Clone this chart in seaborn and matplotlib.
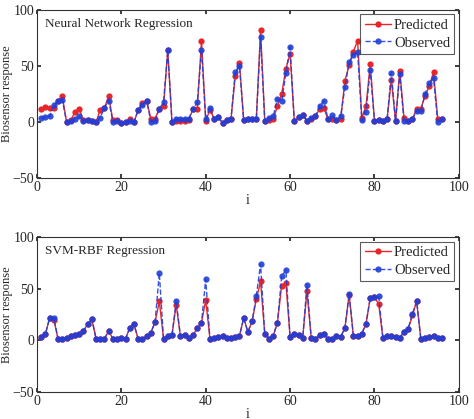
import numpy as np
import pandas as pd
import seaborn as sns
import matplotlib
matplotlib.use("Agg")
import matplotlib.pyplot as plt

# sample index
idx = list(range(1, 97))

# Neural network panel
nn_observed = [3.3, 4.5, 5, 15, 19, 20, 0.3, 0.6, 3, 5, 1, 2, 0.6, 0, 4, 13, 19, 0.3, 1, -1,
               0, 1, 0, 11, 15, 19, 0.5, 1, 12, 17.5, 64, 0.3, 3, 3, 3, 3, 12, 17.5, 64.5, 2.7,
               13, 3, 4.5, -1, 2, 3, 45, 50, 1.5, 3, 3, 3, 76, 1, 4, 5, 20.6, 18.5, 43.5, 67,
               1, 4.4, 6, 1, 4, 5, 14, 19, 2.4, 6, 1.5, 5.6, 31, 54, 60, 62.6, 1.5, 9.4, 46.8, 1,
               2, 1, 2.6, 44, 1, 43, 1, 1, 2.6, 10, 10, 25, 34.7, 39, 0, 3]
nn_predicted = [12, 13.5, 12.5, 13, 19, 23, 0.5, 1.5, 9, 12, 1.5, 2, 0.6, 0, 11, 13, 23, 1.5, 2, -1,
                0, 3, 0, 11, 17, 19, 3, 3, 12, 14, 64, 0.3, 1, 1, 1, 2, 12, 12, 72.6, 1,
                11, 3, 4.5, -1, 2, 3, 41, 53, 1.5, 3, 3, 3, 82, 1, 2, 3, 14, 25, 47.6, 61,
                1, 4.4, 6, 1, 3, 5, 12, 12.6, 2.4, 3, 1.5, 3, 37, 50.6, 63, 72.6, 3.8, 14, 52, 1,
                2, 1, 2.6, 38, 1, 46, 3.8, 1, 2.6, 12, 12, 23.5, 32, 44.7, 3, 3]

# SVM-RBF panel
svm_observed = [3, 6, 21.6, 22, 1, 1.6, 2.6, 3.9, 4.8, 5.8, 9, 15.5, 20.6, 1.6, 1, 1.6, 8.7, 1.6, 1.6, 2.3,
                1.6, 12, 15.5, 1, 1, 3.9, 7.4, 17.7, 65, 1.6, 3.9, 4.8, 38, 4.2, 5.5, 2.6, 4.8, 12, 17, 59,
                1.6, 2.6, 3.2, 4.2, 2.6, 2.6, 3.2, 4.2, 21.6, 8, 18.4, 43, 74, 5.8, 1.6, 4.2, 17, 62, 68, 3.2,
                6.5, 4.8, 2.6, 54, 2.6, 1.6, 4.8, 6.5, 1.6, 1.6, 3.9, 3.2, 12, 45, 4.2, 3.9, 6.5, 16, 41, 42,
                42.6, 2.3, 4.2, 4.2, 3.2, 2.6, 8, 11.3, 25.8, 37.7, 1, 2.3, 3.2, 4.2, 2.3, 2.6]
svm_predicted = [3, 6, 21.6, 20, 1, 1.6, 2.6, 3.9, 4.8, 5.8, 9, 15.5, 20.6, 1.6, 1, 1.6, 8.7, 1.6, 1.6, 2.3,
                 1.6, 12, 15.5, 1, 1, 3.9, 7.4, 17.7, 37.7, 1.6, 3.9, 4.8, 34.5, 4.2, 5.5, 2.6, 4.8, 12, 17, 39,
                 1.6, 2.6, 3.2, 4.2, 2.6, 2.6, 3.2, 4.2, 21.6, 8, 18.4, 40, 57, 5.8, 1.6, 4.2, 17, 53, 56, 3.2,
                 6.5, 4.8, 2.6, 47.4, 2.6, 1.6, 4.8, 6.5, 1.6, 1.6, 3.9, 3.2, 12, 44, 4.2, 3.9, 6.5, 16, 41, 42,
                 35, 2.3, 4.2, 4.2, 3.2, 2.6, 8, 11.3, 24, 37.7, 1, 2.3, 3.2, 4.2, 2.3, 2.6]

sns.set_theme(style="ticks")
plt.rcParams["font.family"] = ["Liberation Serif", "DejaVu Serif"]
plt.rcParams["xtick.direction"] = "in"
plt.rcParams["ytick.direction"] = "in"
plt.rcParams["xtick.top"] = True
plt.rcParams["ytick.right"] = True


def panel(ax, pred, obs, title):
    df = pd.DataFrame({"i": idx, "Predicted": pred, "Observed": obs})
    sns.lineplot(data=df, x="i", y="Predicted", ax=ax, color="#e8262a", marker="o",
                 markersize=4.5, markeredgewidth=0, linewidth=1, label="Predicted")
    sns.lineplot(data=df, x="i", y="Observed", ax=ax, color="#1f3fd8", marker="o",
                 markersize=4.5, markeredgewidth=0, linewidth=1, linestyle="--",
                 label="Observed", alpha=0.9)
    ax.set_xlim(0, 100)
    ax.set_ylim(-50, 100)
    ax.set_xticks([0, 20, 40, 60, 80, 100])
    ax.set_yticks([-50, 0, 50, 100])
    ax.tick_params(labelsize=10, length=3, pad=2)
    ax.set_xlabel("i", fontsize=10, labelpad=0)
    ax.set_ylabel("Biosensor response", fontsize=9, labelpad=0)
    ax.text(0.02, 0.95, title, transform=ax.transAxes, fontsize=9.5, va="top")
    for s in ax.spines.values():
        s.set_color("#333333")
        s.set_linewidth(0.8)
    leg = ax.legend(loc="upper right", fontsize=10.5, frameon=True, fancybox=False,
                    edgecolor="#333333", borderpad=0.3, handlelength=1.8,
                    handletextpad=0.2, labelspacing=0.3, borderaxespad=0.3)
    leg.get_frame().set_linewidth(0.8)


fig = plt.figure(figsize=(4.74, 4.19), dpi=100)
ax1 = fig.add_axes([0.078, 0.575, 0.89, 0.401])
ax2 = fig.add_axes([0.078, 0.065, 0.89, 0.369])
panel(ax1, nn_predicted, nn_observed, "Neural Network Regression")
panel(ax2, svm_predicted, svm_observed, "SVM-RBF Regression")
fig.savefig("out.png", dpi=100)
